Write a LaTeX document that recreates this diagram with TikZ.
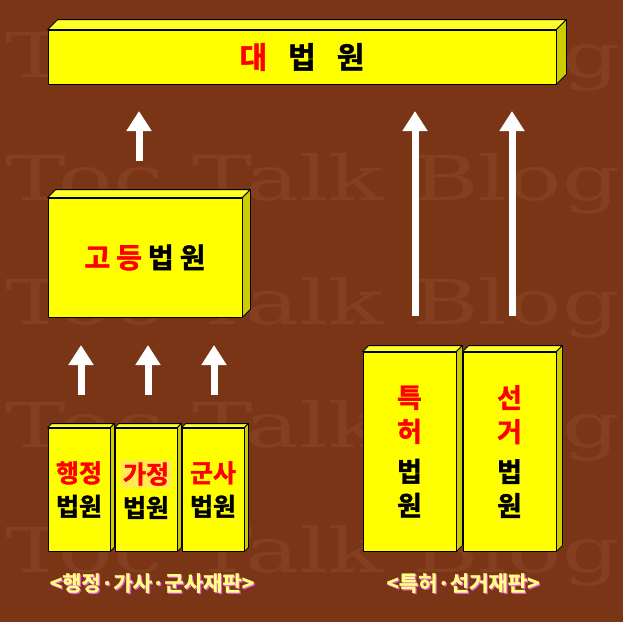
\documentclass[tikz,border=0pt]{standalone}
\usepackage{fontspec}
\newfontfamily\kr{Noto Sans CJK KR}[BoldFont={Noto Sans CJK KR Bold},BoldFeatures={FakeBold=1.6}]
\newfontfamily\wm{DejaVu Serif}
\usetikzlibrary{arrows.meta}
\definecolor{bg}{RGB}{121,53,21}
\definecolor{wmc}{RGB}{131,63,32}
\definecolor{yel}{RGB}{255,255,0}
\definecolor{sidey}{RGB}{204,204,0}
\definecolor{topy}{RGB}{255,255,40}
\definecolor{rd}{RGB}{255,0,0}
\definecolor{capy}{RGB}{255,255,130}
\definecolor{capp}{RGB}{235,90,210}
\definecolor{hil}{RGB}{255,234,80}
\newcommand\threed[2]{%
  \filldraw[fill=topy,draw=black,line width=0.8pt,line join=round]
    (#1.north west) -- ++(#2,-#2) -- ([shift={(#2,-#2)}]#1.north east) -- (#1.north east) -- cycle;
  \filldraw[fill=sidey,draw=black,line width=0.8pt,line join=round]
    (#1.north east) -- ([shift={(#2,-#2)}]#1.north east) -- ([shift={(#2,-#2)}]#1.south east) -- (#1.south east) -- cycle;}
\begin{document}
\begin{tikzpicture}[x=1pt,y=-1pt,
  face/.style={draw=black,line width=0.8pt,fill=yel,inner sep=0pt,align=center,font=\kr\bfseries},
  uparrow/.style={draw=white,line width=7pt,-{Triangle[width=24pt,length=20pt]}},
  wmark/.style={anchor=base west,text=wmc,font=\wm\fontsize{62}{62}\selectfont,xscale=1.46,inner sep=0pt},
  captext/.style={font=\kr\bfseries\fontsize{21}{21}\selectfont,inner sep=0pt},
  smallfont/.style={font=\kr\bfseries\fontsize{25}{33.5}\selectfont},
  tallfont/.style={font=\kr\bfseries\fontsize{27}{34}\selectfont}]
\useasboundingbox (0,0) rectangle (623,622);
\fill[bg] (0,0) rectangle (623,622);
% watermark
\foreach \yy [count=\i] in {77,200,324,447,572}
  \node[wmark] (wm\i) at (5,\yy) {Toc Talk Blog};
% supreme court
\node[face,minimum width=508pt,minimum height=54pt,font=\kr\bfseries\fontsize{30}{30}\selectfont] (sup) at (302,57)
  {\textcolor{rd}{대}\hspace{21pt}법\hspace{21pt}원};
\threed{sup}{10}
% high court
\node[face,minimum width=194pt,minimum height=119pt,font=\kr\bfseries\fontsize{28}{28}\selectfont] (high) at (145,257.5)
  {\textcolor{rd}{고}\hspace{6pt}\textcolor{rd}{등}\hspace{6pt}법\hspace{6pt}원};
\threed{high}{8}
% small courts
\node[face,smallfont,minimum width=62pt,minimum height=123pt] (adm) at (79,489.5)
  {\textcolor{rd}{행정}\\법원};
\node[face,smallfont,minimum width=62pt,minimum height=123pt] (fam) at (146,489.5)
  {{\fboxsep=2.5pt\colorbox{hil}{\textcolor{rd}{가정}}}\\법원};
\node[face,smallfont,minimum width=62pt,minimum height=123pt] (mil) at (213,489.5)
  {\textcolor{rd}{군사}\\법원};
\threed{adm}{4}
\threed{fam}{4}
\threed{mil}{4}
% patent / election
\node[face,tallfont,minimum width=93pt,minimum height=199pt] (pat) at (409.5,451.5)
  {\textcolor{rd}{특}\\\textcolor{rd}{허}\\[6pt]법\\원};
\node[face,tallfont,minimum width=93pt,minimum height=199pt] (ele) at (509.5,451.5)
  {\textcolor{rd}{선}\\\textcolor{rd}{거}\\[6pt]법\\원};
\threed{pat}{6}
\threed{ele}{6}
% arrows
\coordinate (a1s) at (139,161); \coordinate (a1e) at (139,111);
\coordinate (a2s) at (415,316); \coordinate (a2e) at (415,111);
\coordinate (a3s) at (512,316); \coordinate (a3e) at (512,111);
\coordinate (b1s) at (81,395);  \coordinate (b1e) at (81,345);
\coordinate (b2s) at (148,395); \coordinate (b2e) at (148,345);
\coordinate (b3s) at (214,395); \coordinate (b3e) at (214,345);
\draw[uparrow] (a1s) -- (a1e);
\draw[uparrow] (a2s) -- (a2e);
\draw[uparrow] (a3s) -- (a3e);
\draw[uparrow] (b1s) -- (b1e);
\draw[uparrow] (b2s) -- (b2e);
\draw[uparrow] (b3s) -- (b3e);
% captions
\node[captext,text=capp] (cap1s) at (153.2,584.2) {<행정·가사·군사재판>};
\node[captext,text=capy] (cap1) at (152,583) {<행정·가사·군사재판>};
\node[captext,text=capp] (cap2s) at (464.2,584.2) {<특허·선거재판>};
\node[captext,text=capy] (cap2) at (463,583) {<특허·선거재판>};
\end{tikzpicture}
\end{document}
